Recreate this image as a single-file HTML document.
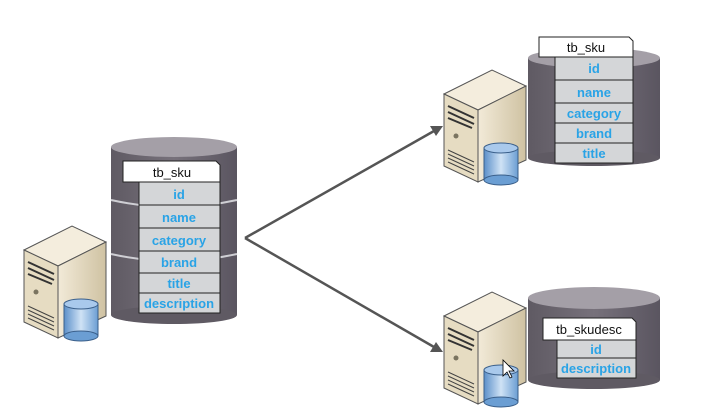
<!DOCTYPE html>
<html><head><meta charset="utf-8"><style>
html,body{margin:0;padding:0;background:#fff;}
svg{display:block;}
text{font-family:"Liberation Sans",sans-serif;}
</style></head><body>
<svg width="702" height="412" viewBox="0 0 702 412" xmlns="http://www.w3.org/2000/svg">
<defs>
<linearGradient id="cyl" x1="0" x2="1" y1="0" y2="0">
<stop offset="0" stop-color="#5f5a63"/><stop offset="0.5" stop-color="#77717b"/><stop offset="1" stop-color="#5a5560"/>
</linearGradient>
<linearGradient id="sr" x1="0" x2="1"><stop offset="0" stop-color="#f2ead8"/><stop offset="1" stop-color="#cfc2a2"/></linearGradient>
<linearGradient id="bl" x1="0" x2="1"><stop offset="0" stop-color="#5b8fc9"/><stop offset="0.5" stop-color="#cfe2f5"/><stop offset="1" stop-color="#6b9ed3"/></linearGradient>
<g id="srv">
<polygon points="0,24 48,0 82,16 34,40" fill="#f4eddd" stroke="#555" stroke-width="1"/>
<polygon points="0,24 34,40 34,112 0,96" fill="#e6dcc2" stroke="#555" stroke-width="1"/>
<polygon points="34,40 82,16 82,90 34,112" fill="url(#sr)" stroke="#555" stroke-width="1"/>
<path d="M4,36 L30,48 M4,42 L30,54 M4,48 L28,58" stroke="#333" stroke-width="2"/>
<circle cx="12" cy="66" r="2.5" fill="#7a7460"/>
<path d="M4,80 L30,92 M4,84 L30,96 M4,88 L30,100 M4,92 L30,104" stroke="#444" stroke-width="1"/>
<rect x="40" y="78" width="34" height="32" fill="url(#bl)" stroke="#3a5f8a"/>
<ellipse cx="57" cy="110" rx="17" ry="5" fill="#6b9ed3" stroke="#3a5f8a"/>
<ellipse cx="57" cy="78" rx="17" ry="5" fill="#a9c9ec" stroke="#3a5f8a"/>
</g>
</defs>

<!-- arrows -->
<g stroke="#555" stroke-width="2.5" fill="none">
<line x1="245" y1="238" x2="434" y2="131"/>
<line x1="245" y1="238" x2="434" y2="347"/>
</g>
<polygon points="443,126 430,126 436,136" fill="#555"/>
<polygon points="443,352 436,342 430,352" fill="#555"/>

<!-- left cylinder -->
<rect x="111" y="147" width="126" height="168" fill="url(#cyl)"/>
<ellipse cx="174" cy="315" rx="63" ry="9" fill="#5f5a63"/>
<ellipse cx="174" cy="147" rx="63" ry="10" fill="#a49fa7"/>
<path d="M111,200 Q174,214 237,200 M111,254 Q174,268 237,254" stroke="#cfcfd4" stroke-width="2" fill="none"/>
<use href="#srv" x="24" y="226"/>
<!-- left table -->
<g stroke="#222" stroke-width="1">
<path d="M123,161 H216 L220,165 V182 H123 Z" fill="#fff"/>
<rect x="139" y="182" width="81" height="23" fill="#d4d6d8"/>
<rect x="139" y="205" width="81" height="23" fill="#d4d6d8"/>
<rect x="139" y="228" width="81" height="23" fill="#d4d6d8"/>
<rect x="139" y="251" width="81" height="22" fill="#d4d6d8"/>
<rect x="139" y="273" width="81" height="20" fill="#d4d6d8"/>
<rect x="139" y="293" width="81" height="20" fill="#d4d6d8"/>
</g>
<g font-size="13" text-anchor="middle" fill="#29a3e6" font-weight="bold">
<text x="172" y="177" fill="#111" font-weight="normal">tb_sku</text>
<text x="179" y="199">id</text>
<text x="179" y="222">name</text>
<text x="179" y="245">category</text>
<text x="179" y="267">brand</text>
<text x="179" y="288">title</text>
<text x="179" y="308">description</text>
</g>

<!-- top right -->
<rect x="528" y="58" width="132" height="100" fill="url(#cyl)"/>
<ellipse cx="594" cy="158" rx="66" ry="8" fill="#5f5a63"/>
<ellipse cx="594" cy="58" rx="66" ry="10" fill="#a49fa7"/>
<use href="#srv" x="444" y="70"/>
<g stroke="#222" stroke-width="1">
<path d="M539,37 H629 L633,41 V57 H539 Z" fill="#fff"/>
<rect x="555" y="57" width="78" height="23" fill="#d4d6d8"/>
<rect x="555" y="80" width="78" height="23" fill="#d4d6d8"/>
<rect x="555" y="103" width="78" height="20" fill="#d4d6d8"/>
<rect x="555" y="123" width="78" height="20" fill="#d4d6d8"/>
<rect x="555" y="143" width="78" height="20" fill="#d4d6d8"/>
</g>
<g font-size="13" text-anchor="middle" fill="#29a3e6" font-weight="bold">
<text x="586" y="52" fill="#111" font-weight="normal">tb_sku</text>
<text x="594" y="73">id</text>
<text x="594" y="97">name</text>
<text x="594" y="118">category</text>
<text x="594" y="138">brand</text>
<text x="594" y="158">title</text>
</g>

<!-- bottom right -->
<rect x="528" y="298" width="132" height="82" fill="url(#cyl)"/>
<ellipse cx="594" cy="380" rx="66" ry="9" fill="#5f5a63"/>
<ellipse cx="594" cy="298" rx="66" ry="11" fill="#a49fa7"/>
<use href="#srv" x="444" y="292"/>
<g stroke="#222" stroke-width="1">
<path d="M543,318 H632 L636,322 V340 H543 Z" fill="#fff"/>
<rect x="557" y="340" width="79" height="18" fill="#d4d6d8"/>
<rect x="557" y="358" width="79" height="20" fill="#d4d6d8"/>
</g>
<g font-size="13" text-anchor="middle" fill="#29a3e6" font-weight="bold">
<text x="589" y="334" fill="#111" font-weight="normal">tb_skudesc</text>
<text x="596" y="354">id</text>
<text x="596" y="373">description</text>
</g>
<polygon points="503,360 503,376 507,372 510,378 512,377 509,371 514,371" fill="#fff" stroke="#000" stroke-width="0.8"/>
</svg>
</body></html>
